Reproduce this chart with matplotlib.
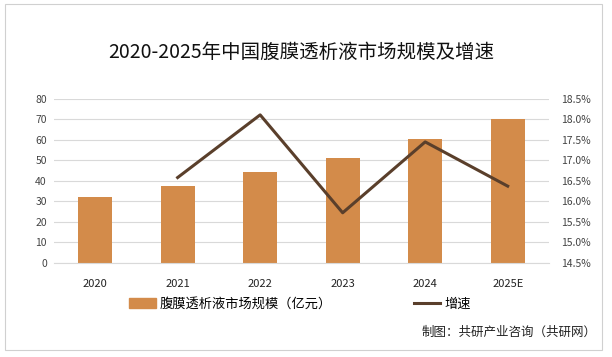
import matplotlib.pyplot as plt
from matplotlib.patches import Rectangle
from matplotlib.lines import Line2D
from matplotlib.ticker import FuncFormatter

plt.rcParams['font.family'] = ['Noto Sans CJK SC', 'DejaVu Sans']

years = ["2020", "2021", "2022", "2023", "2024", "2025E"]
scale = [32.3, 37.5, 44.4, 51.2, 60.4, 70.1]
growth_years = ["2021", "2022", "2023", "2024", "2025E"]
growth = [16.58, 18.11, 15.72, 17.45, 16.37]

bar_color = "#D38B4A"
line_color = "#5A3F2B"

fig = plt.figure(figsize=(6.12, 3.57), dpi=100)
ax = fig.add_axes([0.088, 0.264, 0.809, 0.459])

x = list(range(len(years)))
ax.bar(x, scale, width=0.41, color=bar_color, zorder=2)
ax.set_ylim(0, 80)
ax.set_yticks(range(0, 81, 10))
ax.set_xlim(-0.5, len(years) - 0.5)
ax.set_xticks(x)
ax.set_xticklabels(years, fontsize=8, color="#222222")
ax.tick_params(axis="y", labelsize=7.5, colors="#444444", length=0, pad=5)
ax.tick_params(axis="x", length=0, pad=12)
ax.grid(axis="y", color="#D9D9D9", linewidth=0.8, zorder=0)
for s in ax.spines.values():
    s.set_visible(False)
ax.spines["bottom"].set_visible(True)
ax.spines["bottom"].set_color("#D9D9D9")

ax2 = ax.twinx()
gx = [years.index(y) for y in growth_years]
ax2.plot(gx, growth, color=line_color, linewidth=2.2, zorder=3)
ax2.set_ylim(14.5, 18.5)
ax2.set_yticks([14.5 + 0.5 * i for i in range(9)])
ax2.yaxis.set_major_formatter(FuncFormatter(lambda v, p: "%.1f%%" % v))
ax2.tick_params(axis="y", labelsize=7.5, colors="#444444", length=0, pad=9)
for s in ax2.spines.values():
    s.set_visible(False)

fig.text(0.492, 0.854, "2020-2025年中国腹膜透析液市场规模及增速",
         ha="center", va="center", fontsize=14, color="#111111")

handles = [Rectangle((0, 0), 1, 1, color=bar_color),
           Line2D([0], [0], color=line_color, linewidth=2.2)]
fig.legend(handles, ["腹膜透析液市场规模（亿元）", "增速"],
           loc="center", bbox_to_anchor=(0.49, 0.148), ncol=2, frameon=False,
           fontsize=9.5, handlelength=2.0, handletextpad=0.3, columnspacing=6.2)

fig.text(0.975, 0.07, "制图：共研产业咨询（共研网）", ha="right", va="center",
         fontsize=9, color="#222222")

fig.patches.append(Rectangle((0.008, 0.02), 0.975, 0.968, transform=fig.transFigure,
                             fill=False, edgecolor="#D0D0D0", linewidth=0.8))

fig.savefig("out.png", dpi=100)
